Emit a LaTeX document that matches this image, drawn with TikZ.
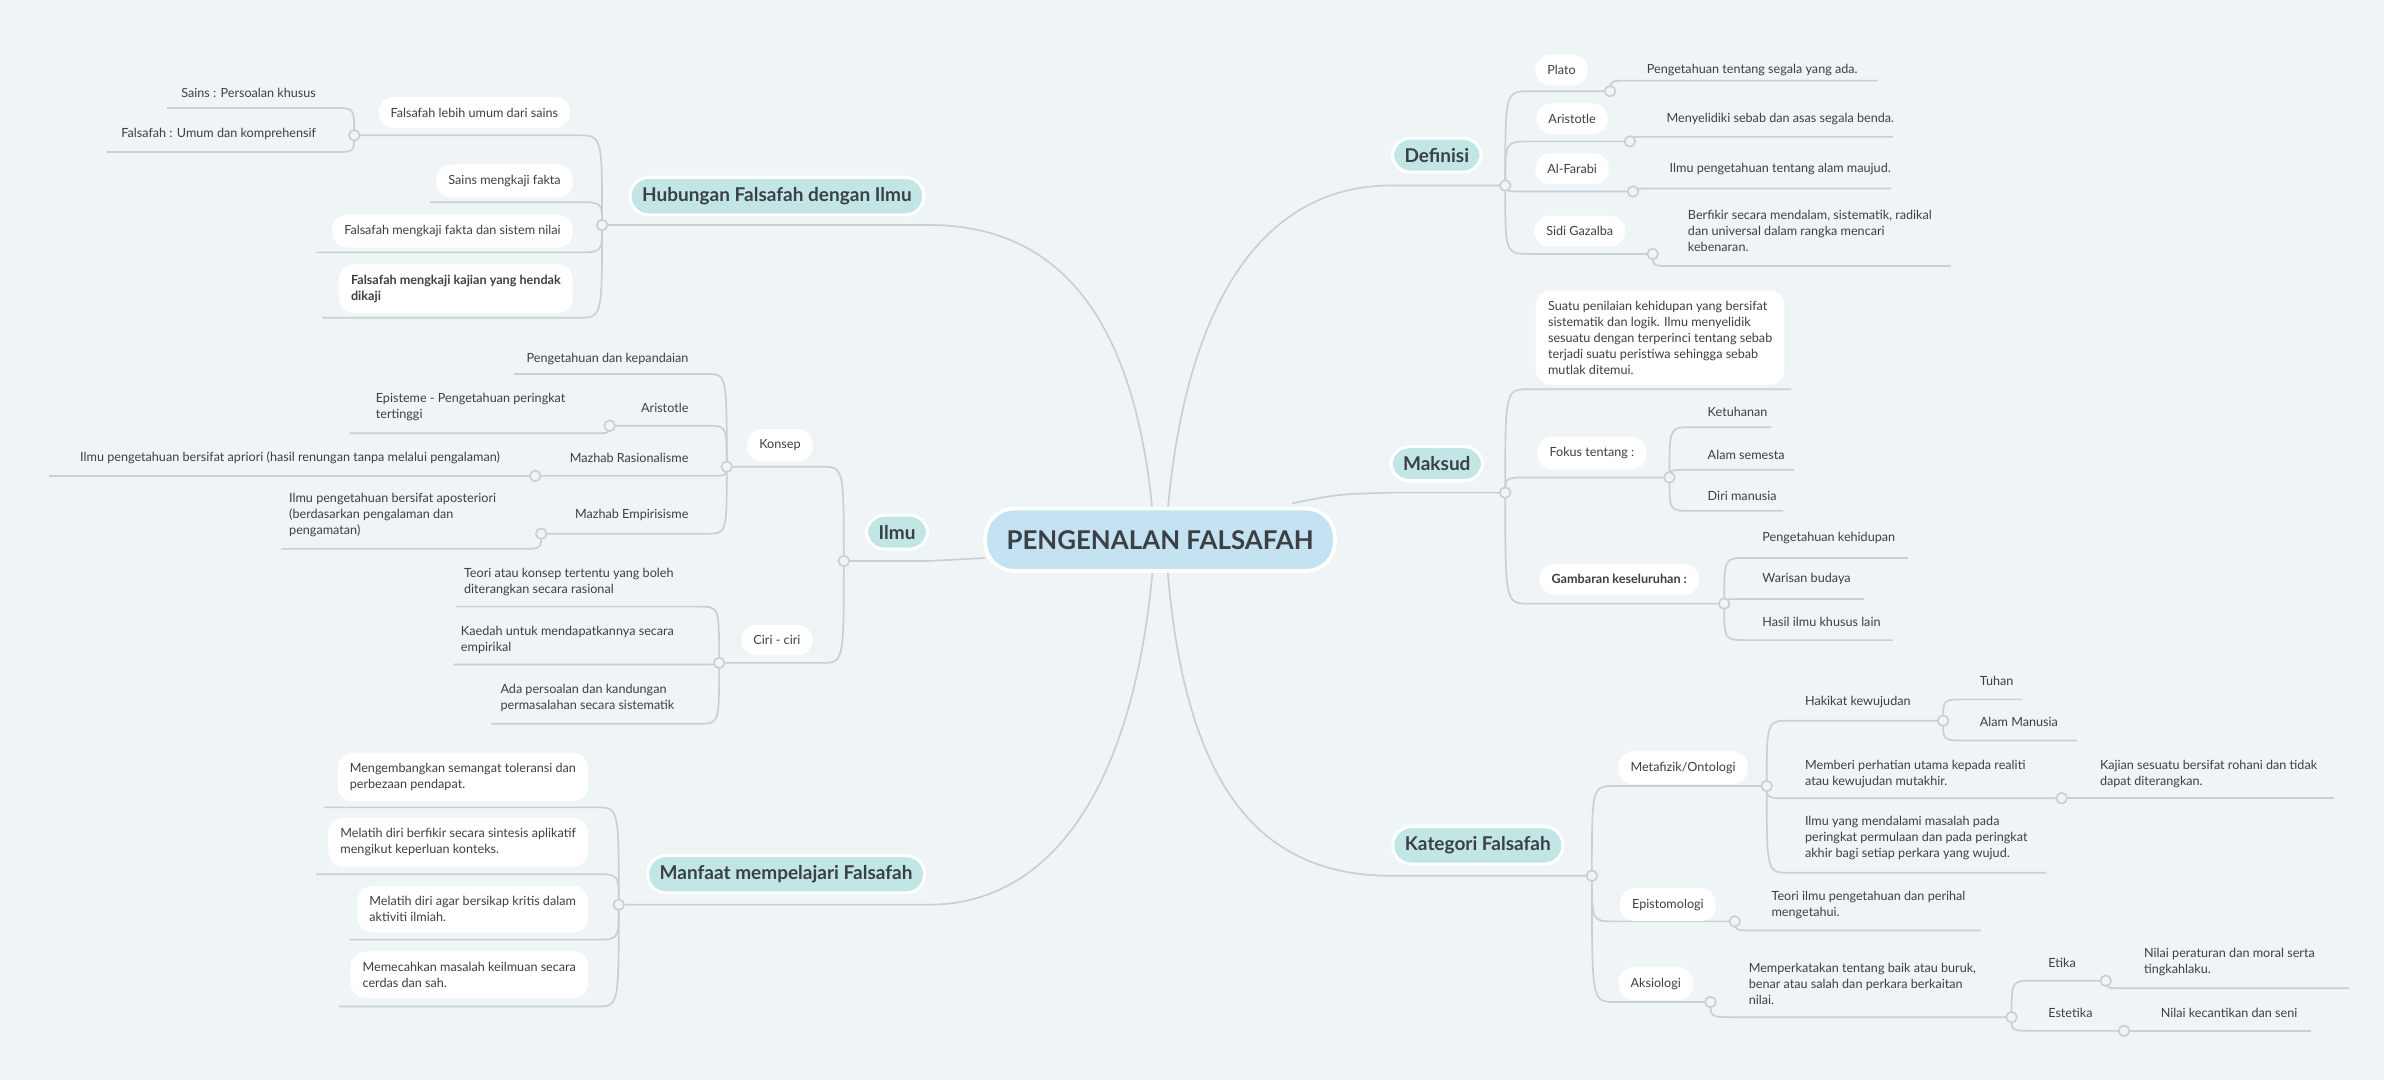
\documentclass[tikz,border=0pt]{standalone}
\usepackage{fontspec}
\setmainfont{Lato}
\usetikzlibrary{calc}
\definecolor{bg}{HTML}{EFF4F7}
\definecolor{lnc}{HTML}{C9CFD4}
\definecolor{txt}{HTML}{3A4045}
\definecolor{teal}{HTML}{C2E6E6}
\definecolor{ctrc}{HTML}{C4E2F1}
\tikzset{
 ln/.style={draw=lnc,line width=1.1pt},
 jc/.style={draw=lnc,fill=bg,line width=1.1pt},
 lt/.style={text=txt,font=\fontsize{8.3}{10.5}\selectfont,inner sep=0pt,align=left},
 bx/.style={lt,fill=white,rounded corners=10pt,inner xsep=8pt,inner ysep=7pt},
 mb/.style={fill=teal,draw=white,line width=2pt,rounded corners=12pt,text=txt,font=\fontsize{12.5}{14}\bfseries\selectfont,inner xsep=8pt,inner ysep=6.5pt},
}
\newcommand\br[5]{\coordinate (#2n) at (#3,#5);\coordinate (#2f) at (#4,#5);
 \draw[ln] (#1) .. controls (#1 |- #2n) .. (#2n) -- (#2f);}
\begin{document}
\begin{tikzpicture}[x=1pt,y=-1pt]
\fill[bg] (0,0) rectangle (1568,710);
\useasboundingbox (0,0) rectangle (1568,710);
% junctions
\coordinate (D) at (990,122); \coordinate (M) at (990,324); \coordinate (K) at (1047,576);
\coordinate (H) at (396,148); \coordinate (I) at (555,369); \coordinate (F) at (407,595);
\coordinate (plj) at (1059,60); \coordinate (arj) at (1072,93); \coordinate (afj) at (1074,126); \coordinate (sgj) at (1087,167);
\coordinate (fkj) at (1098,314); \coordinate (gbj) at (1134,397);
\coordinate (mtj) at (1162,517); \coordinate (hkj) at (1278,474); \coordinate (mpj) at (1356,525);
\coordinate (epj) at (1141,606); \coordinate (akj) at (1125,659); \coordinate (akcj) at (1323,669);
\coordinate (etj) at (1385,645); \coordinate (esj) at (1397,678);
\coordinate (flj) at (233,89); \coordinate (koj) at (478,307); \coordinate (c2j) at (401,280);
\coordinate (c3j) at (352,313); \coordinate (c4j) at (356,351); \coordinate (cij) at (473,436);
% centre connectors
\coordinate (cA) at (768,336); \coordinate (cB) at (850,331); \coordinate (cC) at (768,376);
\coordinate (cE) at (758,336); \coordinate (cF) at (648,367); \coordinate (cG) at (758,376);
\coordinate (defL) at (915,122); \coordinate (makL) at (915,324); \coordinate (katL) at (915,576);
\coordinate (hubR) at (611,148); \coordinate (ilmR) at (610,369); \coordinate (manR) at (611,595);
\draw[ln] (cA) .. controls (780,200) and (830,122) .. (defL) -- (D);
\draw[ln] (cB) .. controls (880,325) .. (makL) -- (M);
\draw[ln] (cC) .. controls (780,520) and (830,576) .. (katL) -- (K);
\draw[ln] (cE) .. controls (745,200) and (690,148) .. (hubR) -- (H);
\draw[ln] (cF) -- (ilmR) -- (I);
\draw[ln] (cG) .. controls (745,520) and (690,595) .. (manR) -- (F);
% Definisi
\br{D}{pl}{1006}{1059}{60} \br{plj}{plc}{1072}{1235}{53}
\br{D}{ar}{1006}{1072}{93} \br{arj}{arc}{1085}{1245}{90}
\br{D}{af}{1006}{1074}{126} \br{afj}{afc}{1087}{1244}{124}
\br{D}{sg}{1006}{1087}{167} \br{sgj}{sgc}{1100}{1283}{175}
\node[bx] (plato) at (1027,46) {Plato};
\node[lt,anchor=west] (platot) at (1083,46) {Pengetahuan tentang segala yang ada.};
\node[bx] (aris) at (1034,78) {Aristotle};
\node[lt,anchor=west] (arist) at (1096,78) {Menyelidiki sebab dan asas segala benda.};
\node[bx] (fara) at (1034,111) {Al-Farabi};
\node[lt,anchor=west] (farat) at (1098,111) {Ilmu pengetahuan tentang alam maujud.};
\node[bx] (sidi) at (1039,152) {Sidi Gazalba};
\node[lt,anchor=west] (sidit) at (1110,152) {Berfikir secara mendalam, sistematik, radikal\\dan universal dalam rangka mencari\\kebenaran.};
% Maksud
\br{M}{mk1}{1006}{1178}{256}
\br{M}{fk}{1006}{1098}{314}
\br{fkj}{k1}{1112}{1165}{281} \br{fkj}{k2}{1112}{1180}{309} \br{fkj}{k3}{1112}{1173}{336}
\br{M}{gb}{1006}{1134}{397}
\br{gbj}{g1}{1148}{1255}{367} \br{gbj}{g2}{1148}{1226}{394} \br{gbj}{g3}{1148}{1245}{421}
\node[bx,anchor=west] (suatu) at (1010,222) {Suatu penilaian kehidupan yang bersifat\\sistematik dan logik. Ilmu menyelidik\\sesuatu dengan terperinci tentang sebab\\terjadi suatu peristiwa sehingga sebab\\mutlak ditemui.};
\node[bx] (fokus) at (1047,298) {Fokus tentang :};
\node[lt,anchor=west] (ket) at (1123,271) {Ketuhanan};
\node[lt,anchor=west] (alam) at (1123,299) {Alam semesta};
\node[lt,anchor=west] (diri) at (1123,326) {Diri manusia};
\node[bx,font=\fontsize{8.3}{10.5}\bfseries\selectfont] (gamb) at (1065,381) {Gambaran keseluruhan :};
\node[lt,anchor=west] (pk) at (1159,354) {Pengetahuan kehidupan};
\node[lt,anchor=west] (wb) at (1159,381) {Warisan budaya};
\node[lt,anchor=west] (hi) at (1159,409) {Hasil ilmu khusus lain};
% Kategori
\br{K}{mt}{1062}{1162}{517}
\br{mtj}{hk}{1177}{1278}{474} \br{hkj}{tu}{1292}{1330}{460} \br{hkj}{am}{1292}{1366}{487}
\br{mtj}{mp}{1177}{1356}{525} \br{mpj}{kj}{1370}{1535}{525}
\br{mtj}{iy}{1177}{1346}{574}
\br{K}{ep}{1062}{1141}{606} \br{epj}{epc}{1155}{1303}{612}
\br{K}{ak}{1062}{1125}{659} \br{akj}{akc}{1140}{1323}{669}
\br{akcj}{et}{1337}{1385}{645} \br{etj}{etc}{1398}{1545}{650}
\br{akcj}{es}{1337}{1397}{678} \br{esj}{esc}{1410}{1520}{678}
\node[bx] (meta) at (1107,505) {Metafizik/Ontologi};
\node[lt,anchor=west] (hakt) at (1187,462) {Hakikat kewujudan};
\node[lt,anchor=west] (tuh) at (1302,448) {Tuhan};
\node[lt,anchor=west] (alm) at (1302,475) {Alam Manusia};
\node[lt,anchor=west] (memb) at (1187,509) {Memberi perhatian utama kepada realiti\\atau kewujudan mutakhir.};
\node[lt,anchor=west] (kaj) at (1381,509) {Kajian sesuatu bersifat rohani dan tidak\\dapat diterangkan.};
\node[lt,anchor=west] (ilmy) at (1187,551) {Ilmu yang mendalami masalah pada\\peringkat permulaan dan pada peringkat\\akhir bagi setiap perkara yang wujud.};
\node[bx] (epis) at (1097,595) {Epistomologi};
\node[lt,anchor=west] (teo) at (1165,595) {Teori ilmu pengetahuan dan perihal\\mengetahui.};
\node[bx] (aks) at (1089,647) {Aksiologi};
\node[lt,anchor=west] (memp) at (1150,647) {Memperkatakan tentang baik atau buruk,\\benar atau salah dan perkara berkaitan\\nilai.};
\node[lt,anchor=west] (etk) at (1347,633) {Etika};
\node[lt,anchor=west] (nil) at (1410,633) {Nilai peraturan dan moral serta\\tingkahlaku.};
\node[lt,anchor=west] (est) at (1347,666) {Estetika};
\node[lt,anchor=west] (nkc) at (1421,666) {Nilai kecantikan dan seni};
% Hubungan
\br{H}{fl}{380}{233}{89} \br{flj}{s1}{220}{110}{71} \br{flj}{s2}{220}{70}{100}
\br{H}{sm}{380}{283}{133} \br{H}{ff}{380}{208}{166} \br{H}{fk2}{380}{212}{209}
\node[bx] (flu) at (312,74) {Falsafah lebih umum dari sains};
\node[lt,anchor=east] (spk) at (208,61) {Sains : Persoalan khusus};
\node[lt,anchor=east] (fuk) at (208,88) {Falsafah : Umum dan komprehensif};
\node[bx,anchor=east] (smf) at (377,119) {Sains mengkaji fakta};
\node[bx,anchor=east] (fmf) at (377,152) {Falsafah mengkaji fakta dan sistem nilai};
\node[bx,anchor=east,font=\fontsize{8.3}{10.5}\bfseries\selectfont] (fmk) at (377,190) {Falsafah mengkaji kajian yang hendak\\dikaji};
% Ilmu
\br{I}{ko}{540}{478}{307}
\br{koj}{c1}{465}{338}{246}
\br{koj}{c2}{465}{401}{280} \br{c2j}{c2c}{388}{230}{285}
\br{koj}{c3}{465}{352}{313} \br{c3j}{c3c}{340}{32}{313}
\br{koj}{c4}{465}{356}{351} \br{c4j}{c4c}{343}{185}{361}
\br{I}{ci}{540}{473}{436}
\br{cij}{d1}{460}{300}{399} \br{cij}{d2}{460}{298}{437} \br{cij}{d3}{460}{323}{476}
\node[bx] (kons) at (513,293) {Konsep};
\node[lt,anchor=east] (pdk) at (453,236) {Pengetahuan dan kepandaian};
\node[lt,anchor=east] (ari2) at (453,268) {Aristotle};
\node[lt,anchor=west] (epi) at (247,268) {Episteme - Pengetahuan peringkat\\tertinggi};
\node[lt,anchor=east] (mrs) at (453,301) {Mazhab Rasionalisme};
\node[lt,anchor=east] (apr) at (329,301) {Ilmu pengetahuan bersifat apriori (hasil renungan tanpa melalui pengalaman)};
\node[lt,anchor=east] (mem) at (453,339) {Mazhab Empirisisme};
\node[lt,anchor=west] (apo) at (190,339) {Ilmu pengetahuan bersifat aposteriori\\(berdasarkan pengalaman dan\\pengamatan)};
\node[bx] (ciri) at (511,421) {Ciri - ciri};
\node[lt,anchor=west] (teor) at (305,383) {Teori atau konsep tertentu yang boleh\\diterangkan secara rasional};
\node[lt,anchor=west] (kae) at (303,421) {Kaedah untuk mendapatkannya secara\\empirikal};
\node[lt,anchor=west] (ada) at (329,459) {Ada persoalan dan kandungan\\permasalahan secara sistematik};
% Manfaat
\br{F}{m1}{392}{213}{531} \br{F}{m2}{392}{208}{575} \br{F}{m3}{392}{230}{618} \br{F}{m4}{392}{223}{662}
\node[bx,anchor=east] (mb1) at (387,511) {Mengembangkan semangat toleransi dan\\perbezaan pendapat.};
\node[bx,anchor=east] (mb2) at (387,554) {Melatih diri berfikir secara sintesis aplikatif\\mengikut keperluan konteks.};
\node[bx,anchor=east] (mb3) at (387,598) {Melatih diri agar bersikap kritis dalam\\aktiviti ilmiah.\hspace*{20pt}};
\node[bx,anchor=east] (mb4) at (387,641) {Memecahkan masalah keilmuan secara\\cerdas dan sah.\hspace*{8pt}};
% main branches
\node[mb] (defi) at (945,102) {Definisi};
\node[mb] (maks) at (945,305) {Maksud};
\node[mb] (kate) at (972,556) {Kategori Falsafah};
\node[mb] (hubu) at (511,129) {Hubungan Falsafah dengan Ilmu};
\node[mb] (ilmu) at (590,350) {Ilmu};
\node[mb] (manf) at (517,575) {Manfaat mempelajari Falsafah};
\node[fill=ctrc,draw=white,line width=2.5pt,rounded corners=19pt,text=txt,font=\fontsize{17}{19}\bfseries\selectfont,minimum width=230pt,minimum height=41pt] (ctr) at (763,355) {PENGENALAN FALSAFAH};
\foreach \j in {D,M,K,H,I,F,plj,arj,afj,sgj,fkj,gbj,mtj,hkj,mpj,epj,akj,akcj,etj,esj,flj,koj,c2j,c3j,c4j,cij}
 \draw[jc] (\j) circle (3.5);
\end{tikzpicture}
\end{document}
